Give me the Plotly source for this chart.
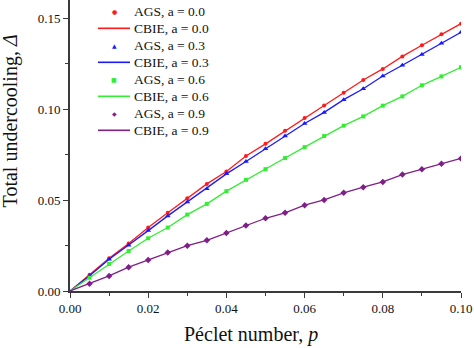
import plotly.graph_objects as go

# Péclet numbers at which the undercooling was evaluated
peclet = [0.005, 0.010, 0.015, 0.020, 0.025, 0.030, 0.035, 0.040, 0.045, 0.050,
          0.055, 0.060, 0.065, 0.070, 0.075, 0.080, 0.085, 0.090, 0.095, 0.100]

# Total undercooling for each anisotropy parameter a
delta_a00 = [0.0090, 0.0180, 0.0261, 0.0349, 0.0430, 0.0510, 0.0589, 0.0657, 0.0742, 0.0809,
             0.0881, 0.0951, 0.1020, 0.1090, 0.1160, 0.1221, 0.1290, 0.1351, 0.1411, 0.1470]
delta_a03 = [0.0084, 0.0175, 0.0252, 0.0332, 0.0413, 0.0490, 0.0562, 0.0644, 0.0712, 0.0782,
             0.0852, 0.0921, 0.0982, 0.1052, 0.1112, 0.1182, 0.1241, 0.1301, 0.1362, 0.1422]
delta_a06 = [0.0073, 0.0149, 0.0220, 0.0290, 0.0349, 0.0420, 0.0479, 0.0549, 0.0611, 0.0670,
             0.0731, 0.0791, 0.0852, 0.0909, 0.0960, 0.1019, 0.1070, 0.1131, 0.1180, 0.1230]
delta_a09 = [0.0040, 0.0083, 0.0131, 0.0171, 0.0211, 0.0249, 0.0279, 0.0319, 0.0360, 0.0400,
             0.0430, 0.0472, 0.0501, 0.0540, 0.0571, 0.0600, 0.0640, 0.0670, 0.0699, 0.0729]

a_labels = ["0.0", "0.3", "0.6", "0.9"]
colors = ["#ff1a1a", "#1a1aff", "#33ee33", "#7f1f87"]
symbols = ["circle", "triangle-up", "square", "diamond"]
glyphs = ["●", "▲", "■", "◆"]
msizes = [4, 5, 4, 5]
series = [delta_a00, delta_a03, delta_a06, delta_a09]

FONT = "Liberation Serif, Times New Roman, serif"
W, H = 474, 348
ML, MR, MT, MB = 70, 13, 0, 57
PW, PH = W - ML - MR, H - MT - MB


def px_x(px):
    return (px - ML) / PW


def px_y(py):
    return (H - MB - py) / PH


fig = go.Figure()
for lab, col, sym, ms, d in zip(a_labels, colors, symbols, msizes, series):
    fig.add_trace(go.Scatter(
        x=peclet, y=d, mode="markers", name=f"AGS, a = {lab}",
        marker=dict(symbol=sym, size=ms, color=col, line=dict(width=0)),
    ))
    # the boundary-integral curve starts at the origin
    fig.add_trace(go.Scatter(
        x=[0.0] + peclet, y=[0.0] + d, mode="lines", name=f"CBIE, a = {lab}",
        line=dict(color=col, width=1.3),
    ))

axis_common = dict(
    showline=True, linecolor="#3a3a3a", linewidth=1.6,
    ticks="outside", ticklen=5, tickwidth=1.4, tickcolor="#3a3a3a",
    showgrid=False, zeroline=False,
    tickfont=dict(family=FONT, size=13, color="#111"),
    minor=dict(ticks="outside", ticklen=3, tickwidth=1.2, tickcolor="#3a3a3a"),
)

fig.update_xaxes(range=[0, 0.1], tickvals=[0, 0.02, 0.04, 0.06, 0.08, 0.10],
                 ticktext=["0.00", "0.02", "0.04", "0.06", "0.08", "0.10"],
                 **axis_common)
fig.update_xaxes(minor=dict(tickvals=[0.01, 0.03, 0.05, 0.07, 0.09]))
fig.update_yaxes(range=[0, 0.16], tickvals=[0, 0.05, 0.10, 0.15],
                 ticktext=["0.00", "0.05", "0.10", "0.15"],
                 **axis_common)
fig.update_yaxes(minor=dict(tickvals=[0.025, 0.075, 0.125]))

fig.add_annotation(text="Péclet number, <i>p</i>", xref="paper", yref="paper",
                   x=0.463, y=-0.151, xanchor="center", yanchor="middle",
                   showarrow=False, font=dict(family=FONT, size=20, color="#111"))
fig.add_annotation(text="Total undercooling, <i>Δ</i>", xref="paper", yref="paper",
                   x=-0.151, y=0.586, xanchor="center", yanchor="middle", textangle=-90,
                   showarrow=False, font=dict(family=FONT, size=20, color="#111"))

# Compact legend: marker / line sample plus label on each row
row_y0, row_step = 11.3, 17.0
row = 0
for lab, col, glyph in zip(a_labels, colors, glyphs):
    for kind in ("AGS", "CBIE"):
        yy = px_y(row_y0 + row * row_step)
        if kind == "AGS":
            fig.add_annotation(text=glyph, xref="paper", yref="paper",
                               x=px_x(114), y=yy, xanchor="center", yanchor="middle",
                               showarrow=False,
                               font=dict(family="DejaVu Sans", size=6, color=col))
        else:
            fig.add_shape(type="line", xref="paper", yref="paper",
                          x0=px_x(98), x1=px_x(130), y0=yy, y1=yy,
                          line=dict(color=col, width=1.6))
        fig.add_annotation(text=f"{kind}, a = {lab}", xref="paper", yref="paper",
                           x=px_x(132), y=yy, xanchor="left", yanchor="middle",
                           showarrow=False,
                           font=dict(family=FONT, size=13.5, color="#111"))
        row += 1

fig.update_layout(
    width=W, height=H,
    margin=dict(l=ML, r=MR, t=MT, b=MB),
    paper_bgcolor="white", plot_bgcolor="white",
    showlegend=False,
)

fig.write_html("out.html")
